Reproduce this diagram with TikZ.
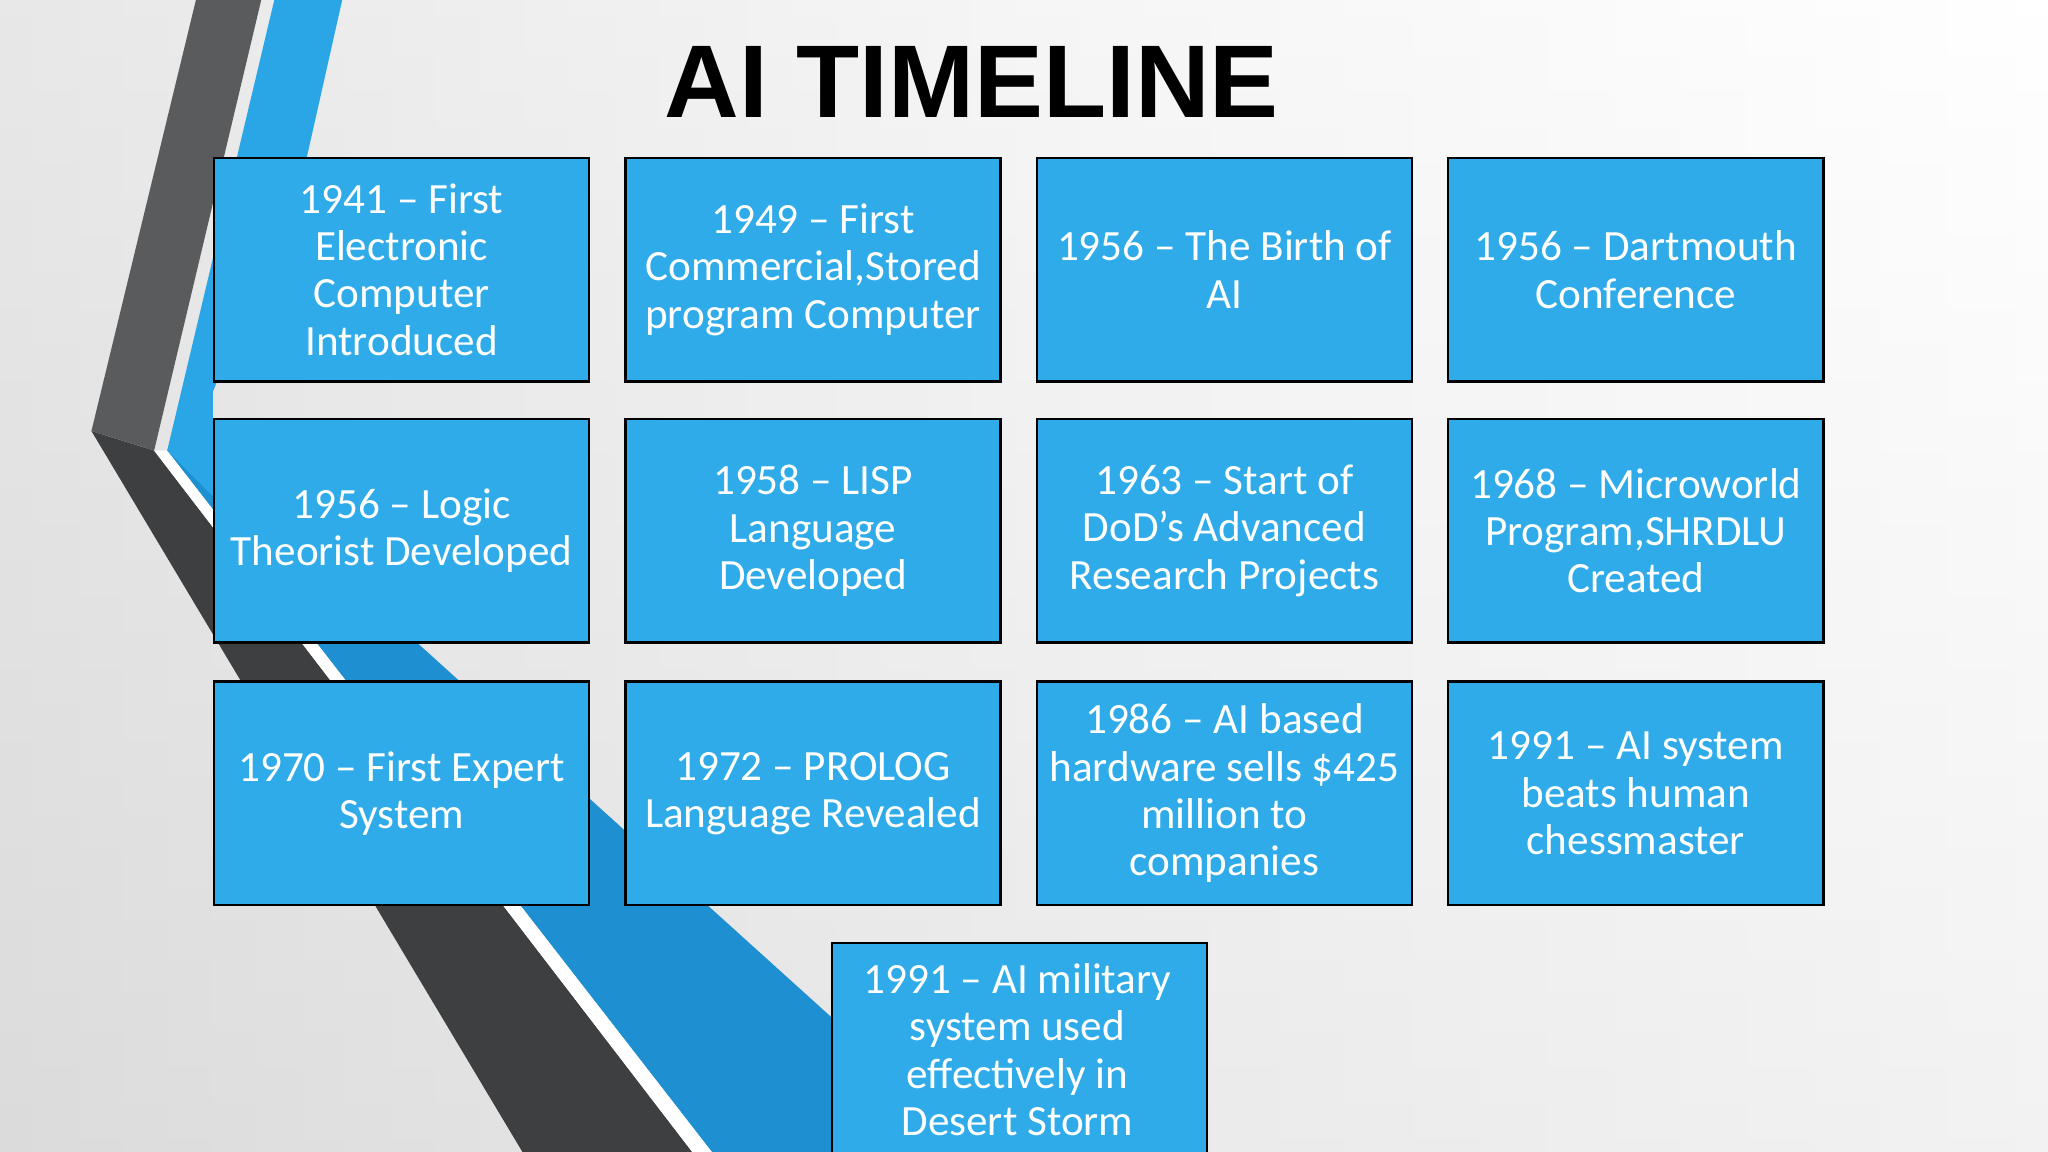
\documentclass[tikz,border=0pt]{standalone}
\usepackage{fontspec}
\setmainfont{Carlito}
\newfontfamily\titlefont{Liberation Sans}
\definecolor{boxblue}{HTML}{2EABE8}
\definecolor{darkband}{HTML}{3E3F41}
\definecolor{midband}{HTML}{5A5B5D}
\definecolor{band}{HTML}{1E8FD0}
\definecolor{bandlight}{HTML}{2AA6E6}
\begin{document}
\begin{tikzpicture}[x=0.01cm,y=-0.01cm,
  ev/.style={draw=black,line width=0.5pt,fill=boxblue,minimum width=2.87cm,minimum height=1.71cm,
    align=center,text=white,font=\fontsize{9.4}{10.3}\selectfont,inner sep=0pt,anchor=north west}]
\useasboundingbox (0,0) rectangle (1568,882);
\shade[left color=gray!30,right color=white,middle color=gray!12] (0,0) rectangle (1568,882);
\shade[top color=white,bottom color=gray!25,opacity=0.4] (0,0) rectangle (1568,882);
% bands
\fill[band] (128,345) -- (140,330) -- (660,800) -- (660,882) -- (545,882) -- cycle;
\fill[darkband] (70,330) -- (118,345) -- (530,882) -- (400,882) -- cycle;
\fill[white] (118,345) -- (128,345) -- (545,882) -- (530,882) -- cycle;
\fill[midband] (150,0) -- (200,0) -- (118,345) -- (70,330) -- cycle;
\fill[bandlight] (210,0) -- (262,0) -- (235,120) -- (163,300) -- (163,380) -- (128,345) -- cycle;
\node[font=\titlefont\bfseries\fontsize{22.5}{26}\selectfont,inner sep=0pt] (title) at (744,63) {AI TIMELINE};
\node[ev] (a1) at (163,120) {1941 – First\\Electronic\\Computer\\Introduced};
\node[ev] (a2) at (478,120) {1949 – First\\Commercial,Stored\\program Computer};
\node[ev] (a3) at (793,120) {1956 – The Birth of\\AI};
\node[ev] (a4) at (1108,120) {1956 – Dartmouth\\Conference};
\node[ev] (b1) at (163,320) {1956 – Logic\\Theorist Developed};
\node[ev] (b2) at (478,320) {1958 – LISP\\Language\\Developed};
\node[ev] (b3) at (793,320) {1963 – Start of\\DoD’s Advanced\\Research Projects};
\node[ev] (b4) at (1108,320) {1968 – Microworld\\Program,SHRDLU\\Created};
\node[ev] (c1) at (163,521) {1970 – First Expert\\System};
\node[ev] (c2) at (478,521) {1972 – PROLOG\\Language Revealed};
\node[ev] (c3) at (793,521) {1986 – AI based\\hardware sells \$425\\million to\\companies};
\node[ev] (c4) at (1108,521) {1991 – AI system\\beats human\\chessmaster};
\node[ev,minimum height=1.75cm] (d1) at (636,721) {};
\node[align=center,text=white,font=\fontsize{9.4}{10.3}\selectfont,inner sep=0pt,anchor=north] (d1t) at (779,737) {1991 – AI military\\system used\\effectively in\\Desert Storm};
\end{tikzpicture}
\end{document}
